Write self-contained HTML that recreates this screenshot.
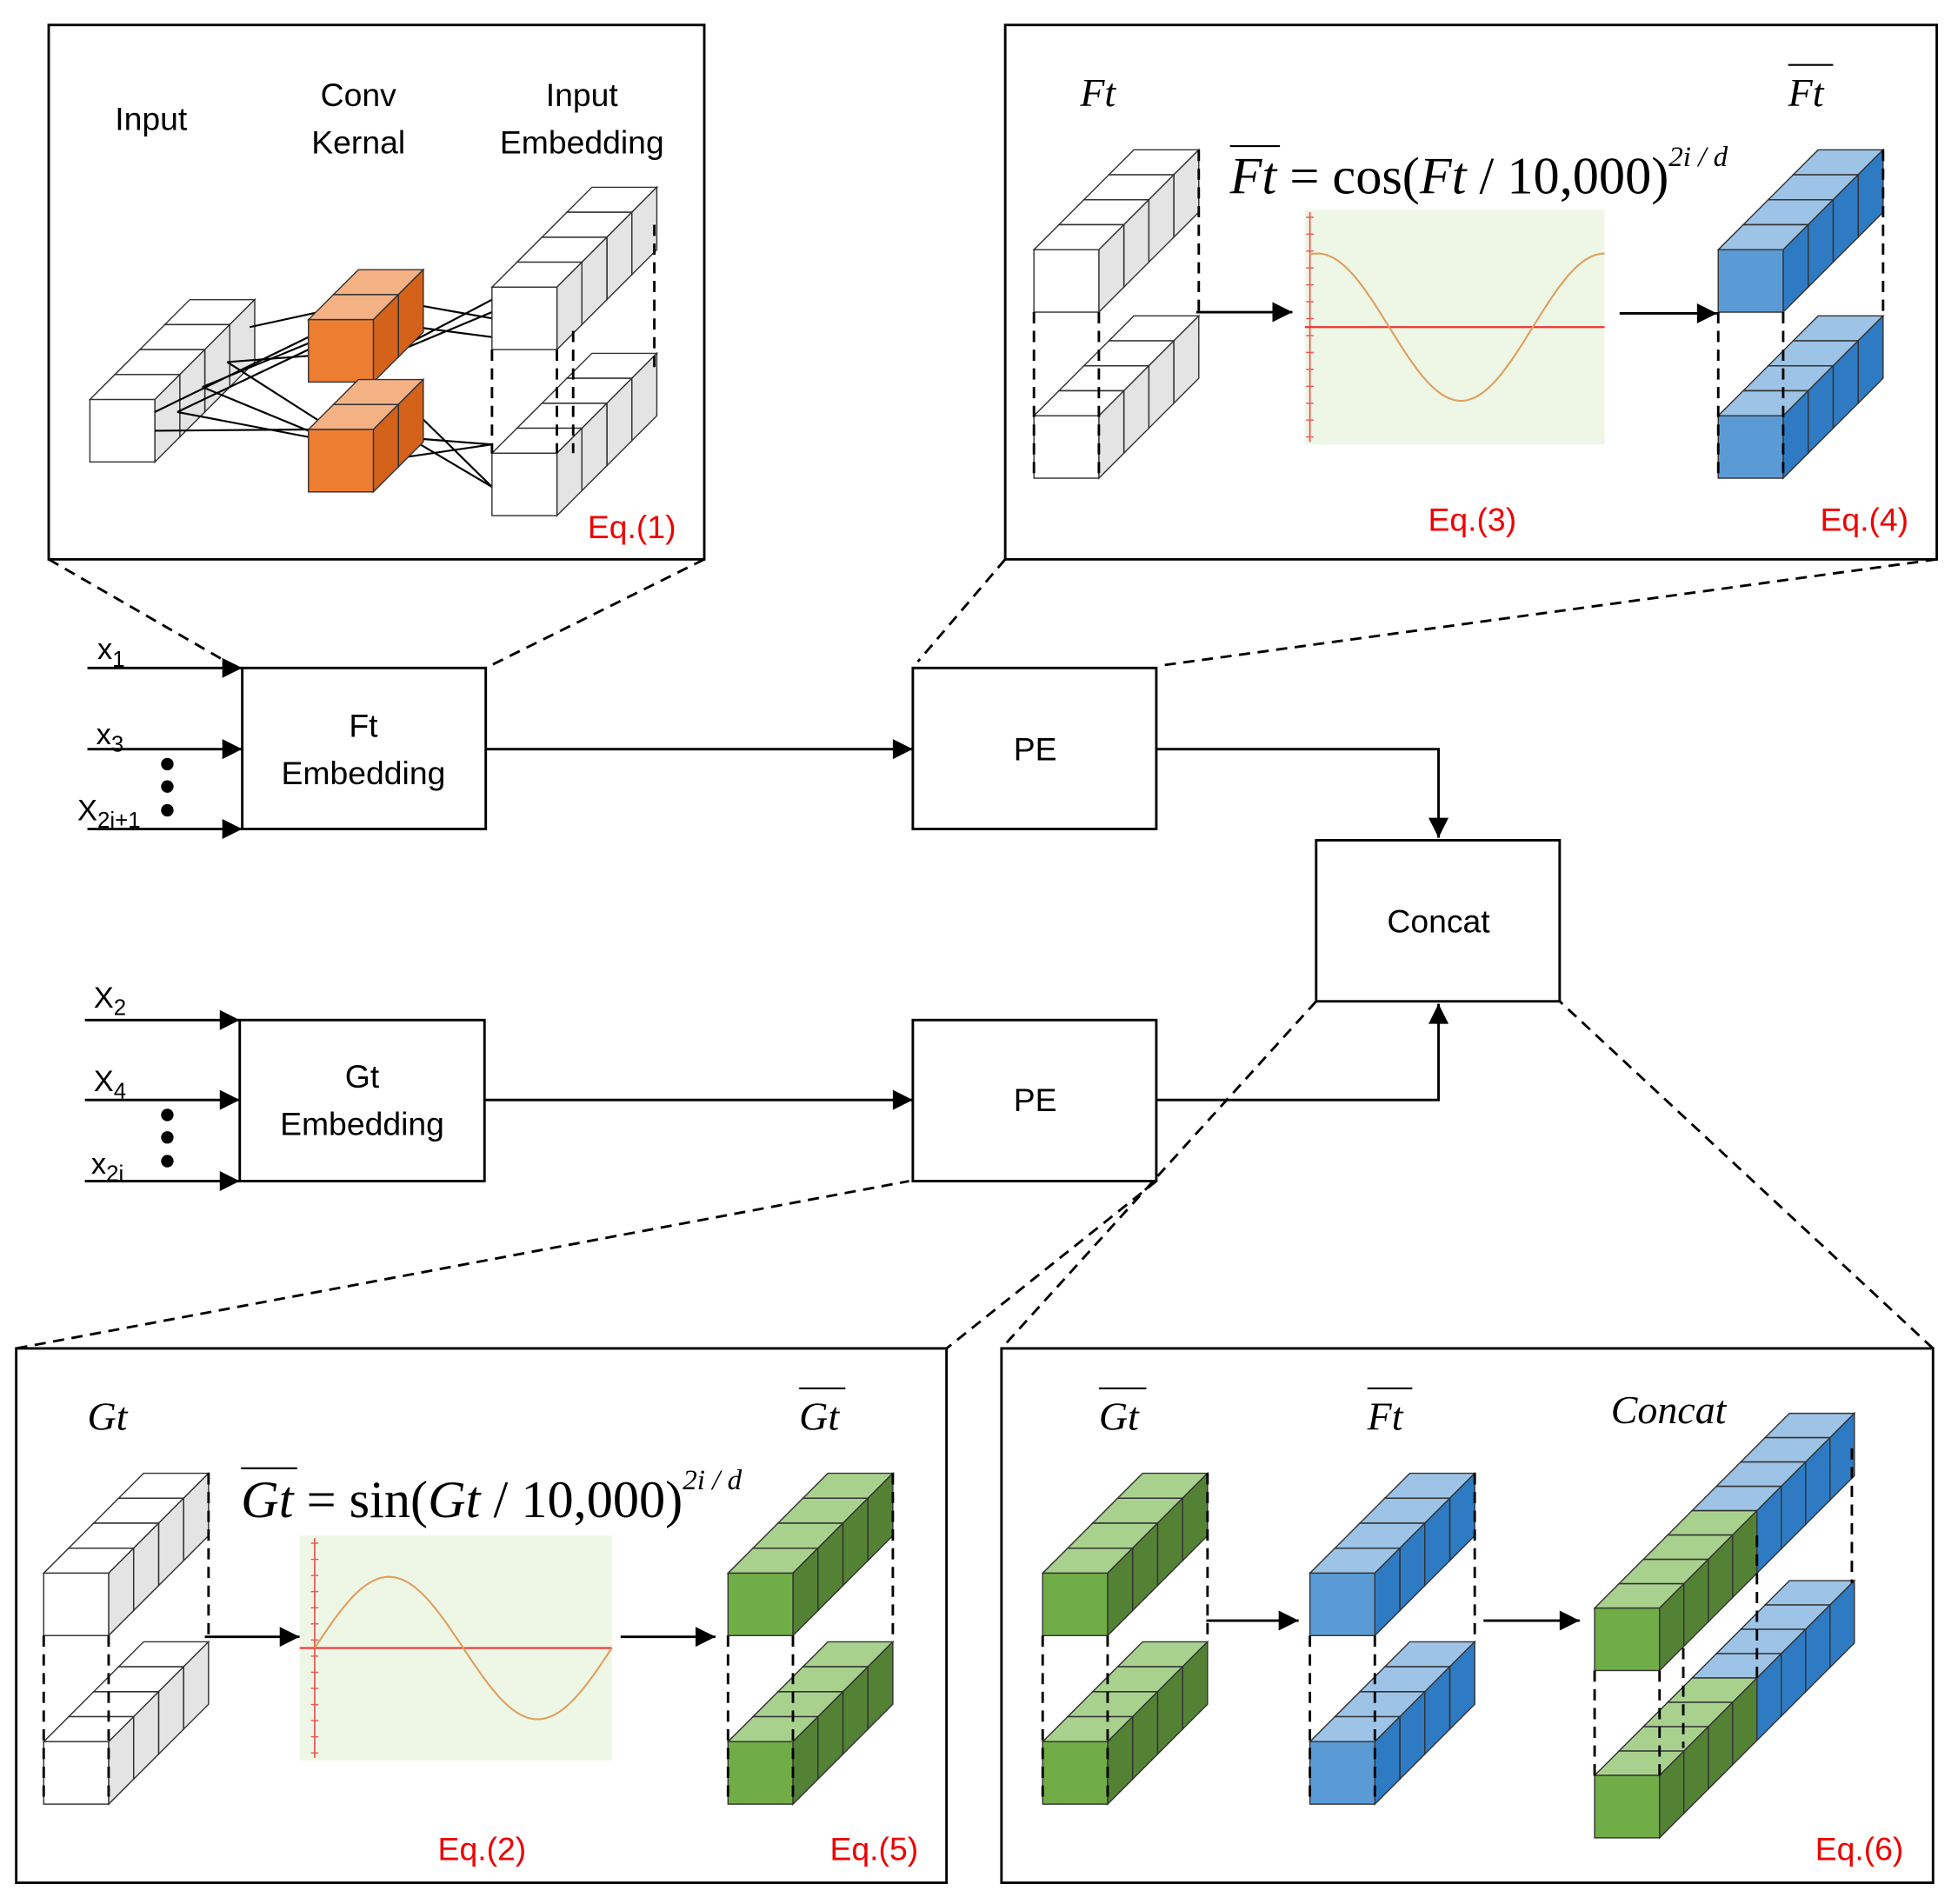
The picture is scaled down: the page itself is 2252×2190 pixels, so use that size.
<!DOCTYPE html>
<html><head><meta charset="utf-8"><style>
html,body{margin:0;padding:0;background:#fff}
svg{display:block}
text{font-family:"Liberation Sans",sans-serif}
.s{font-family:"Liberation Serif",serif}
</style></head><body>
<svg id="g" width="2252" height="2190" viewBox="0 0 1568 1525" preserveAspectRatio="none" xmlns="http://www.w3.org/2000/svg">
<defs>
<marker id="ar" viewBox="0 0 10 10" markerWidth="20" markerHeight="16" refX="10" refY="5" orient="auto" markerUnits="userSpaceOnUse"><path d="M0,0 L10,5 L0,10 Z" fill="#000"/></marker></defs>
<rect width="1568" height="1525" fill="#fff"/>
<g id="main"></g>
</svg>
<script>
var S='';
function L(x1,y1,x2,y2,extra){S+='<line x1="'+x1+'" y1="'+y1+'" x2="'+x2+'" y2="'+y2+'" stroke="#000" stroke-width="2" '+(extra||'')+'/>';}
function D(x1,y1,x2,y2){L(x1,y1,x2,y2,'stroke-dasharray="9,6" stroke-width="1.5"');}
function A(x1,y1,x2,y2){L(x1,y1,x2,y2,'marker-end="url(#ar)"');}
function R(x,y,w,h,sw){S+='<rect x="'+x+'" y="'+y+'" width="'+w+'" height="'+h+'" fill="none" stroke="#000" stroke-width="'+(sw||2)+'"/>';}
function T(x,y,t,sz,col,anchor,cls){S+='<text x="'+x+'" y="'+y+'" font-size="'+sz+'" fill="'+(col||'#000')+'" text-anchor="'+(anchor||'start')+'"'+(cls?' class="'+cls+'"':'')+'>'+t+'</text>';}
var W={f:'#fff',t:'#fff',s:'#e4e4e4'},B={f:'#5b9bd5',t:'#9dc3e6',s:'#2e7bc4'},G={f:'#70ad47',t:'#a9d18e',s:'#548235'},O={f:'#ed7d31',t:'#f4b183',s:'#d5621a'};
function P(pts,fill){S+='<polygon points="'+pts.map(function(p){return p.join(',')}).join(' ')+'" fill="'+fill+'" stroke="#333" stroke-width="1"/>';}
function stack(x,y,cols,d){d=d||20;var w=52,h=50;for(var i=cols.length-1;i>=0;i--){var c=cols[i],X=x+i*d,Y=y-i*d;
P([[X,Y],[X+w,Y],[X+w+d,Y-d],[X+d,Y-d]],c.t);P([[X+w,Y],[X+w+d,Y-d],[X+w+d,Y+h-d],[X+w,Y+h]],c.s);
S+='<rect x="'+X+'" y="'+Y+'" width="'+w+'" height="'+h+'" fill="'+c.f+'" stroke="#333" stroke-width="1"/>';}}
function rep(c,n){var a=[];for(var i=0;i<n;i++)a.push(c);return a;}
function pair(x,y1,y2,c){stack(x,y1,rep(c,4));stack(x,y2,rep(c,4));D(x,y1+50,x,y2+50);D(x+52,y1+50,x+52,y2+50);D(x+132,y1-80,x+132,y2-80);}
function plot(x,y,w,h,ay,ax,fn){S+='<rect x="'+x+'" y="'+y+'" width="'+w+'" height="'+h+'" fill="#eef7e5"/>';
S+='<line x1="'+ax+'" y1="'+(y+2)+'" x2="'+ax+'" y2="'+(y+h-2)+'" stroke="#e55" stroke-width="1.2"/>';
S+='<line x1="'+(x)+'" y1="'+ay+'" x2="'+(x+w)+'" y2="'+ay+'" stroke="#e33" stroke-width="1.5"/>';
for(var k=0;k<14;k++){var ty=y+6+k*(h-12)/13;S+='<line x1="'+(ax-3)+'" y1="'+ty+'" x2="'+(ax+3)+'" y2="'+ty+'" stroke="#e55" stroke-width="1"/>';}
var d='';for(var X=ax;X<=x+w;X+=2){d+=(X==ax?'M':'L')+X+','+fn(X).toFixed(1);}S+='<path d="'+d+'" fill="none" stroke="#e0a060" stroke-width="1.5"/>';}

R(39,20,525,428);R(805,20,746,428);R(13,1080,745,428);R(802,1080,746,428);
R(194,535,195,129);R(731,535,195,129);R(1054,673,195,129);R(192,817,196,129);R(731,817,195,129);
D(39,448,190,535);D(564,448,389,535);D(805,448,735,530);D(1551,448,930,533);
D(13,1080,728,946);D(926,946,758,1080);D(1054,802,802,1080);D(1548,1080,1249,802);
A(70,535,194,535);A(70,600,194,600);A(70,664,194,664);
A(68,817,192,817);A(68,881,192,881);A(68,946,192,946);
S+='<text x="78" y="528" font-size="24">x<tspan font-size="18" dy="6">1</tspan></text>';
S+='<text x="77" y="596" font-size="24">x<tspan font-size="18" dy="6">3</tspan></text>';
S+='<text x="62" y="657" font-size="24">X<tspan font-size="18" dy="6">2i+1</tspan></text>';
S+='<text x="75" y="807" font-size="24">X<tspan font-size="18" dy="6">2</tspan></text>';
S+='<text x="75" y="874" font-size="24">X<tspan font-size="18" dy="6">4</tspan></text>';
S+='<text x="73" y="940" font-size="24">x<tspan font-size="18" dy="6">2i</tspan></text>';
[612,630,649,893,911,930].forEach(function(y){S+='<circle cx="134" cy="'+y+'" r="5"/>';});
A(389,600,731,600);A(388,881,731,881);
S+='<path d="M926,600 H1152 V671" fill="none" stroke="#000" stroke-width="2" marker-end="url(#ar)"/>';
S+='<path d="M926,881 H1152 V804" fill="none" stroke="#000" stroke-width="2" marker-end="url(#ar)"/>';
T(291,590,'Ft',26,'#000','middle');T(291,628,'Embedding',26,'#000','middle');
T(829,609,'PE',26,'#000','middle');T(829,890,'PE',26,'#000','middle');T(1152,747,'Concat',26,'#000','middle');
T(290,871,'Gt',26,'#000','middle');T(290,909,'Embedding',26,'#000','middle');

T(121,104,'Input',26,'#000','middle');T(287,85,'Conv',26,'#000','middle');T(287,123,'Kernal',26,'#000','middle');
T(466,85,'Input',26,'#000','middle');T(466,123,'Embedding',26,'#000','middle');
stack(72,320,rep(W,4));
var ln=[[124,330,247,270],[142,330,247,280],[162,310,247,275],[182,290,247,285],[124,345,247,344],[142,330,247,350],[162,310,247,345],[182,290,257,338],[200,262,255,250],[298,290,394,250],[318,260,394,270],[318,280,394,240],[298,370,394,356],[318,350,394,356],[318,345,394,390],[338,335,394,390],[338,245,394,255]];
ln.forEach(function(l){S+='<line x1="'+l[0]+'" y1="'+l[1]+'" x2="'+l[2]+'" y2="'+l[3]+'" stroke="#000" stroke-width="1.5"/>';});
stack(247,256,rep(O,2));stack(247,344,rep(O,2));
stack(394,230,rep(W,4));stack(394,363,rep(W,4));
D(394,280,394,363);D(446,280,446,363);D(524,180,524,300);D(459,265,459,363);
T(506,431,'Eq.(1)',26,'#e00','middle');

T(865,85,'Ft',32,'#000','start','s" font-style="italic');
T(1432,85,'Ft',32,'#000','start','s" font-style="italic');S+='<line x1="1432" y1="52" x2="1468" y2="52" stroke="#000" stroke-width="1.5"/>';
pair(828,200,333,W);pair(1376,200,333,B);
A(958,250,1035,250);A(1297,251,1375,251);
plot(1045,168,240,188,262,1049,function(X){return 262-59*Math.cos((X-1055)/230*2*Math.PI);});
S+='<text x="985" y="155" font-size="42" class="s"><tspan font-style="italic">Ft</tspan> = cos(<tspan font-style="italic">Ft</tspan> / 10,000)<tspan font-size="23" dy="-22" font-style="italic">2i / d</tspan></text>';
S+='<line x1="985" y1="117" x2="1025" y2="117" stroke="#000" stroke-width="1.5"/>';
T(1179,425,'Eq.(3)',26,'#e00','middle');T(1493,425,'Eq.(4)',26,'#e00','middle');

T(70,1145,'Gt',32,'#000','start','s" font-style="italic');
T(640,1145,'Gt',32,'#000','start','s" font-style="italic');S+='<line x1="640" y1="1112" x2="677" y2="1112" stroke="#000" stroke-width="1.5"/>';
pair(35,1260,1395,W);pair(583,1260,1395,G);
A(164,1311,240,1311);A(497,1311,573,1311);
plot(240,1230,250,180,1320,252,function(X){return 1320-57*Math.sin((X-252)/238*2*Math.PI);});
S+='<text x="193" y="1215" font-size="42" class="s"><tspan font-style="italic">Gt</tspan> = sin(<tspan font-style="italic">Gt</tspan> / 10,000)<tspan font-size="23" dy="-22" font-style="italic">2i / d</tspan></text>';
S+='<line x1="193" y1="1176" x2="238" y2="1176" stroke="#000" stroke-width="1.5"/>';
T(386,1490,'Eq.(2)',26,'#e00','middle');T(700,1490,'Eq.(5)',26,'#e00','middle');

T(880,1145,'Gt',32,'#000','start','s" font-style="italic');S+='<line x1="880" y1="1112" x2="918" y2="1112" stroke="#000" stroke-width="1.5"/>';
T(1095,1145,'Ft',32,'#000','start','s" font-style="italic');S+='<line x1="1095" y1="1112" x2="1131" y2="1112" stroke="#000" stroke-width="1.5"/>';
T(1290,1140,'Concat',32,'#000','start','s" font-style="italic');
pair(835,1260,1395,G);pair(1049,1260,1395,B);
A(966,1298,1040,1298);A(1188,1298,1265,1298);
var cc=rep(G,4).concat(rep(B,4));
stack(1277,1288,cc,19.5);stack(1277,1422,cc,19.5);
D(1277,1338,1277,1422);D(1329,1338,1329,1422);D(1483,1160,1483,1268);D(1407,1230,1407,1345);D(1348,1320,1348,1400);
T(1489,1490,'Eq.(6)',26,'#e00','middle');
document.getElementById('main').innerHTML=S;
</script>
</body></html>
